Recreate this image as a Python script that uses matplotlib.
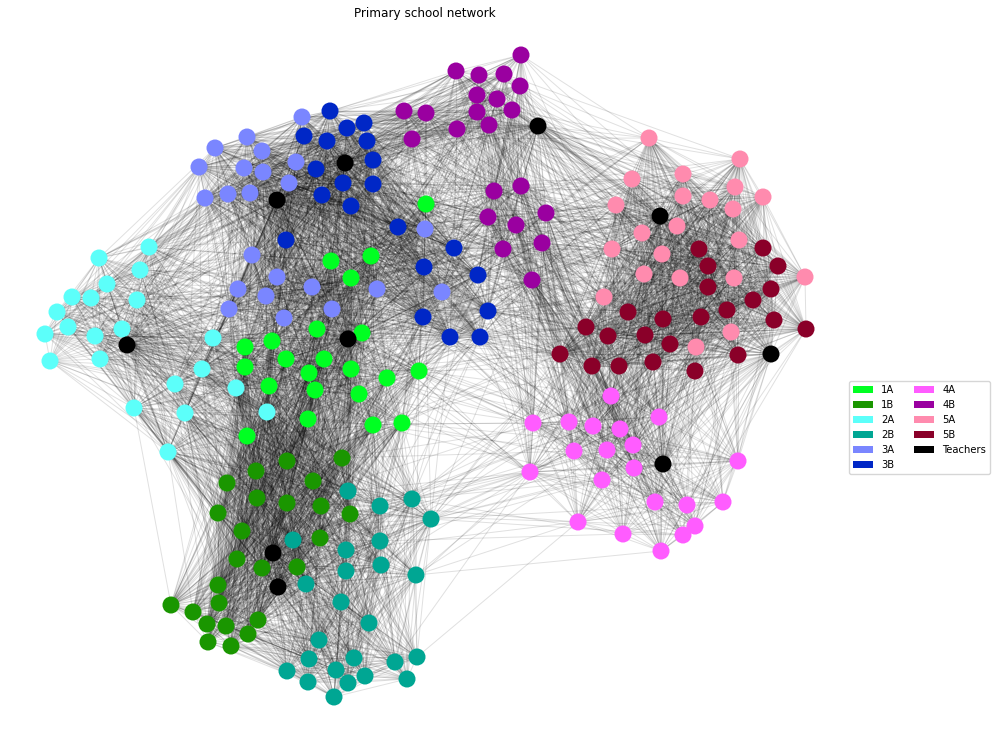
import numpy as np
import matplotlib
matplotlib.use("Agg")
import matplotlib.pyplot as plt
from matplotlib.collections import LineCollection
from matplotlib.patches import Patch

# ---- data: node layout positions per class (layout units) ----
classes = ["1A", "1B", "2A", "2B", "3A", "3B", "4A", "4B", "5A", "5B", "Teachers"]
colors = ["#00ff22", "#1a9600", "#5cfffa", "#00a693", "#7a86ff", "#0027c6",
          "#ff5cff", "#9a00a0", "#ff8bae", "#8a0029", "#000000"]

pos_1A = [(426,204),(331,261),(371,256),(351,278),(317,329),(362,333),(272,341),(245,347),
          (286,359),(324,359),(245,367),(309,373),(351,369),(387,378),(419,371),(269,386),
          (315,390),(359,394),(308,419),(373,425),(402,423),(247,436)]
pos_1B = [(287,461),(342,458),(256,471),(227,483),(313,481),(257,498),(287,503),(321,506),
          (350,514),(218,513),(242,531),(320,538),(237,559),(262,568),(297,567),(218,585),
          (219,603),(171,605),(193,612),(207,624),(226,626),(258,620),(248,634),(208,642),(231,646)]
pos_2A = [(149,247),(99,258),(140,270),(107,284),(72,297),(91,298),(137,300),(57,312),
          (68,327),(95,336),(122,329),(45,334),(50,361),(100,359),(213,338),(202,369),
          (175,384),(236,388),(134,408),(185,413),(267,412),(168,452)]
pos_2B = [(348,491),(380,506),(412,499),(431,519),(293,540),(346,550),(380,541),(346,571),
          (381,565),(416,575),(306,584),(341,602),(369,623),(319,640),(309,659),(354,658),
          (395,662),(417,657),(287,671),(336,670),(365,676),(348,683),(308,682),(407,679),(334,697)]
pos_3A = [(302,117),(247,137),(215,148),(262,151),(199,167),(244,168),(263,172),(296,162),
          (289,183),(205,198),(228,194),(250,193),(252,255),(277,277),(238,289),(266,296),
          (312,287),(377,289),(229,309),(332,309),(284,318),(442,292),(425,229)]
pos_3B = [(330,111),(304,136),(347,128),(327,141),(316,169),(343,183),(322,195),(351,206),
          (286,240),(364,123),(367,141),(373,160),(373,184),(398,227),(454,248),(424,267),
          (478,275),(488,311),(423,317),(450,337),(480,337)]
pos_4A = [(611,396),(659,417),(533,423),(569,422),(593,426),(620,429),(633,445),(574,451),
          (607,450),(530,472),(634,468),(602,480),(738,461),(655,502),(687,505),(723,502),
          (578,522),(695,526),(683,535),(623,534),(661,551)]
pos_4B = [(521,55),(456,71),(479,75),(504,74),(520,86),(477,95),(497,99),(477,112),
          (512,110),(489,125),(404,111),(426,113),(412,139),(457,129),(494,191),(521,186),
          (488,217),(516,225),(546,213),(542,243),(503,249),(532,280)]
pos_5A = [(649,138),(740,159),(632,179),(683,174),(683,196),(710,200),(735,187),(733,209),
          (763,197),(616,205),(677,226),(642,233),(612,249),(662,254),(739,240),(644,274),
          (680,278),(734,278),(604,297),(805,277),(731,332),(696,347)]
pos_5B = [(699,249),(763,248),(708,266),(778,266),(708,287),(771,289),(753,300),(727,310),
          (774,320),(806,329),(628,312),(663,319),(701,317),(586,327),(608,336),(645,335),
          (670,344),(560,354),(592,366),(619,366),(653,362),(695,371),(738,355)]
pos_T = [(345,163),(277,200),(127,345),(348,339),(273,553),(278,587),(538,126),(660,216),
         (771,354),(663,464)]

groups = [pos_1A, pos_1B, pos_2A, pos_2B, pos_3A, pos_3B, pos_4A, pos_4B, pos_5A, pos_5B, pos_T]

# ---- build node table ----
xy = []
lab = []
for gi, g in enumerate(groups):
    for p in g:
        xy.append(p)
        lab.append(gi)
xy = np.array(xy, dtype=float)
lab = np.array(lab)
n = len(xy)
teacher = len(classes) - 1
grade = np.where(lab == teacher, -1, lab // 2)

# ---- contacts: same class, same grade, nearby, or a thinned set of mid-range ones ----
segs = []
for i in range(n):
    for j in range(i + 1, n):
        d = np.hypot(*(xy[i] - xy[j]))
        is_t = lab[i] == teacher or lab[j] == teacher
        same = lab[i] == lab[j] and not is_t
        same_grade = grade[i] == grade[j] and not is_t and d < 300
        reach = 260 if is_t else 130
        mid = d < 260 and (i * 7 + j * 3) % 4 == 0
        if same or same_grade or d < reach or mid:
            segs.append([xy[i], xy[j]])

fig = plt.figure(figsize=(9.97, 7.37), dpi=100)
ax = fig.add_axes([0, 0, 1, 1])
ax.set_xlim(0, 997)
ax.set_ylim(737, 0)
ax.axis("off")

lc = LineCollection(segs, colors="black", linewidths=0.72, alpha=0.12, zorder=1)
ax.add_collection(lc)

for gi, g in enumerate(groups):
    arr = np.array(g, dtype=float)
    ax.scatter(arr[:, 0], arr[:, 1], s=150, c=colors[gi], edgecolors="none", zorder=2)

fig.text(425 / 997, 1 - 13 / 737, "Primary school network", ha="center", va="center", fontsize=8.64)

handles = [Patch(facecolor=c, edgecolor="none", label=l) for c, l in zip(colors, classes)]
fig.legend(handles=handles, ncol=2, loc="upper left",
           bbox_to_anchor=(849 / 997, 1 - 381 / 737), fontsize=7.2,
           borderaxespad=0.0)

fig.savefig("out.png", dpi=100)
